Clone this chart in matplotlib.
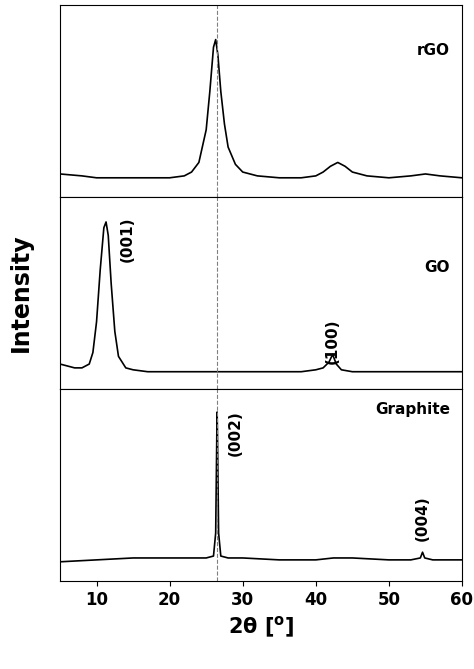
import matplotlib
matplotlib.use("Agg")
import matplotlib.pyplot as plt

rgo_x = [5,8,10,12,15,18,20,22,23,24,25,25.5,26,26.3,26.6,27,27.5,28,29,30,32,35,38,40,41,42,43,44,45,47,50,53,55,57,60]
rgo_y = [0.12,0.11,0.10,0.10,0.10,0.10,0.10,0.11,0.13,0.18,0.35,0.55,0.78,0.82,0.74,0.55,0.38,0.26,0.17,0.13,0.11,0.10,0.10,0.11,0.13,0.16,0.18,0.16,0.13,0.11,0.10,0.11,0.12,0.11,0.10]
go_x = [5,7,8,9,9.5,10,10.5,11,11.3,11.6,12,12.5,13,14,15,17,20,25,30,35,38,40,41,41.8,42.3,42.8,43.5,45,50,55,60]
go_y = [0.13,0.11,0.11,0.13,0.19,0.35,0.62,0.84,0.87,0.80,0.55,0.30,0.17,0.11,0.10,0.09,0.09,0.09,0.09,0.09,0.09,0.10,0.11,0.14,0.18,0.13,0.10,0.09,0.09,0.09,0.09]
gr_x = [5,10,15,20,25,26,26.3,26.45,26.5,26.55,26.7,27,28,30,35,40,42.4,45,50,53,54.3,54.6,54.9,56,60]
gr_y = [0.10,0.11,0.12,0.12,0.12,0.13,0.25,0.75,0.88,0.75,0.25,0.13,0.12,0.12,0.11,0.11,0.12,0.12,0.11,0.11,0.12,0.15,0.12,0.11,0.11]
names = ["rGO", "GO", "Graphite"]
name_y = [0.80, 0.67, 0.93]
peak_labels = [[], [("(001)", 14.2, 0.66), ("(100)", 42.3, 0.13)],
               [("(002)", 29.0, 0.65), ("(004)", 54.6, 0.21)]]
series = [(rgo_x, rgo_y), (go_x, go_y), (gr_x, gr_y)]

fig = plt.figure(figsize=(4.74, 6.69), dpi=100)
L, W = 60/474, 402/474
top, ph = 1 - 5/669, 192/669
for i, ((x, y), nm, pk) in enumerate(zip(series, names, peak_labels)):
    ax = fig.add_axes([L, top - (i+1)*ph, W, ph])
    ax.plot(x, y, color="black", lw=1.2)
    ax.axvline(26.5, color="gray", ls="--", lw=0.8)
    ax.set_xlim(5, 60)
    ax.set_ylim(0, 1)
    ax.set_yticks([])
    ax.text(0.97, name_y[i], nm, transform=ax.transAxes, ha="right", va="top",
            fontsize=11, fontweight="bold")
    for t, px, py in pk:
        ax.text(px, py, t, rotation=90, ha="center", va="bottom",
                fontsize=11, fontweight="bold")
    if i < 2:
        ax.set_xticks([])
    else:
        ax.set_xticks([10, 20, 30, 40, 50, 60])
        ax.tick_params(axis="x", direction="out", labelsize=12)
        for lab in ax.get_xticklabels():
            lab.set_fontweight("bold")
        ax.set_xlabel("2θ [$^\\mathregular{o}$]", fontsize=15, fontweight="bold")
fig.text(0.045, top - 1.5*ph, "Intensity", rotation=90, ha="center", va="center",
         fontsize=17, fontweight="bold")
fig.savefig("out.png", dpi=100)
